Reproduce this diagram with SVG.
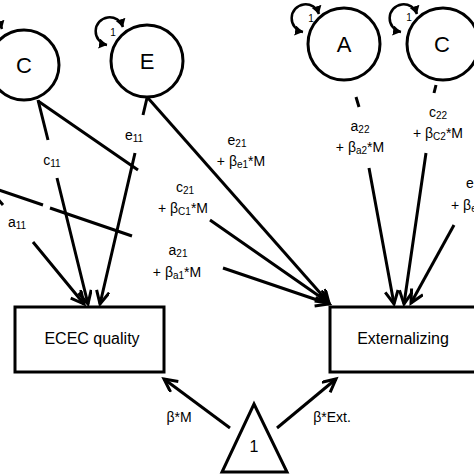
<svg xmlns="http://www.w3.org/2000/svg" width="474" height="474" viewBox="0 0 474 474">
<defs>
<style>
.node{fill:#fff;stroke:#000;stroke-width:3}
.con{fill:none;stroke:#000;stroke-width:3}
.loop{fill:none;stroke:#000;stroke-width:2.5}
text{font-family:"Liberation Sans",Arial,sans-serif;fill:#000}
.lv{font-size:22px;text-anchor:middle}
.box{font-size:16px;text-anchor:middle}
.lbl{font-size:14px;text-anchor:middle}
.sub{font-size:10px}
.one{font-size:10px;text-anchor:middle}
</style>
<marker id="ah" markerUnits="userSpaceOnUse" markerWidth="20" markerHeight="20" refX="14" refY="7" orient="auto">
<path d="M1,0.5 L14,7 L1,13.5" fill="none" stroke="#000" stroke-width="3"/>
</marker>
<marker id="la" markerUnits="userSpaceOnUse" markerWidth="12" markerHeight="12" refX="8" refY="5" orient="auto-start-reverse">
<path d="M0,0 L8,5 L0,10 Z" fill="#000"/>
</marker>
</defs>
<rect width="474" height="474" fill="#fff"/>

<g id="connectors">
<path class="con" d="M38,100 L48,140 M57,178 L88,304" marker-end="url(#ah)"/>
<path class="con" d="M38,101 L138,170 M210,220 L329,303" marker-end="url(#ah)"/>
<path class="con" d="M147,98 L143,115 M135,153 L100,304" marker-end="url(#ah)"/>
<path class="con" d="M148,98 L329,303" marker-end="url(#ah)"/>
<path class="con" d="M-10,190 L3,205 M33,242 L84,304" marker-end="url(#ah)"/>
<path class="con" d="M-10,187 L43,205 M50,208 L132,236 M223,268 L329,304" marker-end="url(#ah)"/>
<path class="con" d="M356,97 L359,107 M369,168 L394,304" marker-end="url(#ah)"/>
<path class="con" d="M436,85 L434,93 M426,153 L404,304" marker-end="url(#ah)"/>
<path class="con" d="M454,225 L411,303" marker-end="url(#ah)"/>
<path class="con" d="M230,428 L164,379" marker-end="url(#ah)"/>
<path class="con" d="M277,428 L336,379" marker-end="url(#ah)"/>
<path class="loop" d="M2,29 A14 14 0 1 0 -14,47" marker-start="url(#la)" marker-end="url(#la)"/>
<path class="loop" d="M123,27 A14 14 0 1 0 107,45" marker-start="url(#la)" marker-end="url(#la)"/>
<path class="loop" d="M319,14 A14 14 0 1 0 303,32" marker-start="url(#la)" marker-end="url(#la)"/>
<path class="loop" d="M417,14 A14 14 0 1 0 401,32" marker-start="url(#la)" marker-end="url(#la)"/>
</g>

<g id="labels">
<text class="one" x="113" y="36">1</text>
<text class="one" x="311" y="22">1</text>
<text class="one" x="409" y="21">1</text>
<text class="lbl" x="52" y="165">c<tspan class="sub" dy="2">11</tspan></text>
<text class="lbl" x="17" y="227">a<tspan class="sub" dy="2">11</tspan></text>
<text class="lbl" x="134" y="140">e<tspan class="sub" dy="2">11</tspan></text>
<text class="lbl" x="237" y="145">e<tspan class="sub" dy="2">21</tspan></text>
<text class="lbl" x="241" y="166">+ β<tspan class="sub" dy="2">e1</tspan><tspan dy="-2">*M</tspan></text>
<text class="lbl" x="185" y="192">c<tspan class="sub" dy="2">21</tspan></text>
<text class="lbl" x="183" y="213">+ β<tspan class="sub" dy="2">C1</tspan><tspan dy="-2">*M</tspan></text>
<text class="lbl" x="178" y="255">a<tspan class="sub" dy="2">21</tspan></text>
<text class="lbl" x="177" y="277">+ β<tspan class="sub" dy="2">a1</tspan><tspan dy="-2">*M</tspan></text>
<text class="lbl" x="360" y="131">a<tspan class="sub" dy="2">22</tspan></text>
<text class="lbl" x="360" y="152">+ β<tspan class="sub" dy="2">a2</tspan><tspan dy="-2">*M</tspan></text>
<text class="lbl" x="438" y="117">c<tspan class="sub" dy="2">22</tspan></text>
<text class="lbl" x="438" y="138">+ β<tspan class="sub" dy="2">C2</tspan><tspan dy="-2">*M</tspan></text>
<text class="lbl" x="466" y="188" style="text-anchor:start">e</text>
<text class="lbl" x="451" y="210" style="text-anchor:start">+ β<tspan class="sub" dy="2">e</tspan></text>
<text class="lbl" x="179" y="422">β*M</text>
<text class="lbl" x="332" y="422">β*Ext.</text>
</g>

<g id="node-C-left">
<circle class="node" cx="24" cy="65" r="35"/>
<text class="lv" x="24" y="73">C</text>
</g>
<g id="node-E">
<circle class="node" cx="147" cy="61" r="36"/>
<text class="lv" x="147" y="69">E</text>
</g>
<g id="node-A">
<circle class="node" cx="344" cy="44" r="36"/>
<text class="lv" x="344" y="52">A</text>
</g>
<g id="node-C-right">
<circle class="node" cx="443" cy="44" r="36"/>
<text class="lv" x="442" y="52">C</text>
</g>
<g id="node-ECEC">
<rect class="node" x="15" y="307" width="149" height="65"/>
<text class="box" x="92" y="344">ECEC quality</text>
</g>
<g id="node-Ext">
<rect class="node" x="330" y="307" width="150" height="65"/>
<text class="box" x="403" y="344">Externalizing</text>
</g>
<g id="node-1">
<polygon class="node" points="254,404 287,472 222,472"/>
<text class="box" x="254" y="452">1</text>
</g>
</svg>
